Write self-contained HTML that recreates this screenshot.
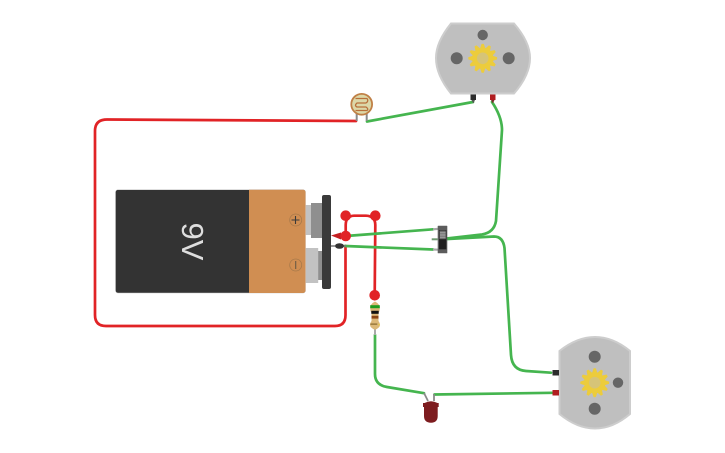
<!DOCTYPE html>
<html><head><meta charset="utf-8"><style>
html,body{margin:0;padding:0;background:#fff}
svg{display:block}
text{font-family:"Liberation Sans",sans-serif}
</style></head><body>
<svg width="725" height="453" viewBox="0 0 725 453" xmlns="http://www.w3.org/2000/svg">
<defs>
<g id="gear">
<circle r="10.6" fill="#eccc3c"/>
<polygon id="t" points="-2.6,-10 -1.1,-14.4 1.1,-14.4 2.6,-10" fill="#eccc3c"/>
<use href="#t" transform="rotate(30)"/><use href="#t" transform="rotate(60)"/><use href="#t" transform="rotate(90)"/>
<use href="#t" transform="rotate(120)"/><use href="#t" transform="rotate(150)"/><use href="#t" transform="rotate(180)"/>
<use href="#t" transform="rotate(210)"/><use href="#t" transform="rotate(240)"/><use href="#t" transform="rotate(270)"/>
<use href="#t" transform="rotate(300)"/><use href="#t" transform="rotate(330)"/>
<circle r="5.8" fill="#d6c478"/>
</g>
</defs>
<!-- battery -->
<rect x="115.5" y="189.7" width="190" height="103.3" rx="2.5" fill="#333333" stroke="#c8c8c8" stroke-width="0.5"/>
<path d="M249,189.7H303a2.5,2.5 0 0 1 2.5,2.5V290.5a2.5,2.5 0 0 1 -2.5,2.5H249Z" fill="#d08e52"/>
<text x="0" y="0" transform="translate(182,241.5) rotate(90)" font-size="31" fill="#dedede" text-anchor="middle">9V</text>
<circle cx="295.7" cy="220" r="6" fill="none" stroke="#a97a4a" stroke-width="0.8"/>
<path d="M291.5,220h8M295.5,216v8" stroke="#3a3a3a" stroke-width="1.1"/>
<circle cx="295.7" cy="265" r="6" fill="none" stroke="#a97a4a" stroke-width="0.8"/>
<path d="M295.7,261v8" stroke="#6a5a45" stroke-width="1.1"/>
<!-- snaps -->
<rect x="305.7" y="205" width="6" height="30" fill="#c2c2c2"/>
<rect x="311" y="203" width="12" height="35" fill="#8f8f8f"/>
<rect x="318" y="251" width="5" height="29" fill="#8f8f8f"/>
<rect x="305.7" y="248" width="12.5" height="35" fill="#c2c2c2"/>
<rect x="322" y="195" width="9" height="94" rx="2" fill="#3a3a3a"/>
<!-- wires -->
<g fill="none" stroke-linecap="round" stroke-linejoin="round">
<path d="M356,121 L107,119.5 Q95,119.5 95,131 L95,315 Q95,326 106,326 L335,326 Q345.5,326 345.5,315 L345.5,246" stroke="#e12326" stroke-width="2.7"/>
<path d="M345.7,236 V225 Q345.7,216 354,215.7 H366 Q375.3,216 375.3,225 L374.7,295" stroke="#e12326" stroke-width="2.7"/>
<g stroke="#45b54f" stroke-width="2.7">
<path d="M346,236 L433,229.3"/>
<path d="M345,246 L433,249.5"/>
<path d="M447,238.5 L482,234.5 Q494,232.5 496,221 L502,130 Q502,117 492,102"/>
<path d="M447,239 L494,236.5 Q503,236.5 504.5,248 L511,355 Q512,370 526,371 L551,372.7"/>
<path d="M367,121.5 L473,102"/>
<path d="M375,335 V374 Q375,385 387,387 L424,393.2"/>
<path d="M434.5,394.5 L552,392.8"/>
</g>
</g>
<path d="M431.7,239.3h6" stroke="#6f9a70" stroke-width="2"/>
<path d="M433,229.3l5,-0.4M433,249.5l5,0.2" stroke="#a8a8a8" stroke-width="2.2"/>
<!-- battery clip leads -->
<path d="M331,235.5 L341,232.5 V239.5Z" fill="#c41f22"/>
<circle cx="345.7" cy="236" r="5.3" fill="#e12326"/>
<circle cx="345.7" cy="215.7" r="5.3" fill="#e12326"/>
<circle cx="375.3" cy="215.7" r="5.3" fill="#e12326"/>
<circle cx="374.7" cy="295.3" r="5.3" fill="#e12326"/>
<path d="M331,246h4M343,246h3" stroke="#777" stroke-width="1.4"/>
<ellipse cx="339.5" cy="246" rx="4.5" ry="2.8" fill="#333"/>
<!-- switch -->
<rect x="437.7" y="225.7" width="9.6" height="27.6" rx="0.6" fill="#5c5c5c"/>
<rect x="439" y="230" width="7.3" height="19.3" fill="#1f1f1f"/>
<rect x="439.5" y="230.5" width="6.3" height="8.7" fill="#707070"/>
<path d="M440,232.8h5.6M440,235h5.6M440,237.2h5.6" stroke="#b0b0b0" stroke-width="0.9"/>
<!-- resistor -->
<path d="M375,329v6" stroke="#aaa" stroke-width="2"/>
<path d="M375,301.5 Q379.8,304 379.8,308 Q379.8,311 378.5,313 V321 Q380,323 380,325 Q379.7,328 375,329.8 Q370.3,328 370,325 Q370,323 371.5,321 V313 Q370.2,311 370.2,308 Q370.2,304 375,301.5Z" fill="#dcb878"/>
<rect x="370.2" y="305.2" width="9.6" height="3" fill="#1f9b1f"/>
<rect x="371.3" y="310.8" width="7.4" height="3" fill="#111"/>
<rect x="371.5" y="315.8" width="7" height="2.8" fill="#8b4513"/>
<rect x="370.3" y="323.6" width="7" height="1" fill="#7a5a20"/>
<circle cx="379" cy="324.5" r="0.8" fill="#e6d040"/>
<!-- LDR -->
<path d="M356.7,112v9M366.7,112v9" stroke="#8a8a8a" stroke-width="2"/>
<circle cx="361.7" cy="104.3" r="10.4" fill="#dcd8a8" stroke="#c08046" stroke-width="1.8"/>
<path d="M355.5,98.5H367Q369,101 366,103H357Q354,105.5 357,107H366Q369,109 367,110.5H355.5" fill="none" stroke="#b8703a" stroke-width="1.3"/>
<!-- top motor -->
<path d="M451,23.5 H514 Q530,42 530,58 Q530,75 514,93.5 H451 Q436,75 436,58 Q436,42 451,23.5Z" fill="#bfbfbf" stroke="#cdcdcd" stroke-width="2"/>
<circle cx="456.7" cy="58.3" r="6" fill="#666"/>
<circle cx="508.7" cy="58.3" r="6" fill="#666"/>
<circle cx="482.7" cy="35" r="5.2" fill="#666"/>
<use href="#gear" transform="translate(482.7,58.3)"/>
<rect x="470.5" y="94.5" width="5.5" height="5.5" fill="#2c2c2c"/>
<path d="M471.5,100h3.5l-1.7,3.5z" fill="#555"/>
<rect x="490" y="94.5" width="5.5" height="5.5" fill="#b01d20"/>
<path d="M491,100h3.5l-1.7,3.5z" fill="#7a2a2a"/>
<!-- bottom motor -->
<path d="M559.5,351 Q577,337 595,337 Q613,337 630,351 V414 Q613,428.5 595,428.5 Q577,428.5 559.5,414Z" fill="#bfbfbf" stroke="#cdcdcd" stroke-width="2"/>
<circle cx="594.7" cy="356.7" r="6" fill="#666"/>
<circle cx="594.7" cy="408.7" r="6" fill="#666"/>
<circle cx="618" cy="382.7" r="5.2" fill="#666"/>
<use href="#gear" transform="translate(594.7,382.7)"/>
<rect x="552.5" y="370" width="6.5" height="5.5" fill="#2c2c2c"/>
<rect x="552.5" y="390" width="6.5" height="5.5" fill="#b01d20"/>
<!-- LED -->
<path d="M424,393L428,401M434,394V401" stroke="#8a8a8a" stroke-width="1.8" fill="none"/>
<path d="M424.5,403 Q431,399.5 437.5,403 H438.7 V407 H437.7 V416 Q437.7,422.7 431,422.7 Q424,422.7 424,416 V407 H423 V403Z" fill="#7d1c1f"/>
</svg>
</body></html>
